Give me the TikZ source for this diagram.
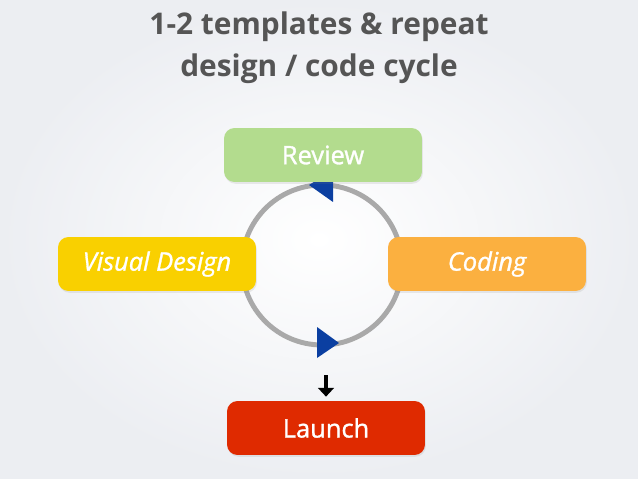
\documentclass[tikz,border=0pt]{standalone}
\usepackage{fontspec}
\setmainfont{Open Sans}
\newfontfamily\boxfont[FakeBold=1.2]{Open Sans}
\usetikzlibrary{arrows.meta,shadows}
\definecolor{bgcol}{HTML}{ECEEF2}
\definecolor{titlecol}{HTML}{555555}
\definecolor{reviewcol}{HTML}{B3DC8E}
\definecolor{designcol}{HTML}{F9D000}
\definecolor{codecol}{HTML}{FBB040}
\definecolor{launchcol}{HTML}{DF2A00}
\definecolor{ringcol}{HTML}{A9A9A9}
\definecolor{tipcol}{HTML}{0B3FA1}
\tikzset{
  stagebox/.style={rounded corners=6pt, minimum width=3.96cm, minimum height=1.08cm,
    text=white, font=\boxfont\fontsize{14.5}{17}\selectfont, inner sep=0pt,
    drop shadow={shadow xshift=0.5pt, shadow yshift=-1pt, opacity=0.15}},
}
\begin{document}
\begin{tikzpicture}[x=0.02cm, y=-0.02cm]

\shade[inner color=white, outer color=bgcol] (0,0) rectangle (638,479);
\useasboundingbox (0,0) rectangle (638,479);

% title
\node[text=titlecol, font=\bfseries\fontsize{17}{24}\selectfont, align=center] (title) at (319,48) {1-2 templates \& repeat\\design / code cycle};

% cycle ring
\draw[ringcol, line width=2.8pt] (322,265) circle (80);
\fill[tipcol] (309,185) -- (333,170) -- (333,202) -- cycle;
\fill[tipcol] (339,343) -- (317,327) -- (317,358) -- cycle;

% stages
\node[stagebox, fill=reviewcol] (review) at (323,155) {Review};
\node[stagebox, fill=designcol] (design) at (157,264) {\itshape Visual Design};
\node[stagebox, fill=codecol] (coding) at (487,264) {\itshape Coding};
\node[stagebox, fill=launchcol] (launch) at (326,428) {Launch};

\coordinate (exit) at (326,375);
\draw[-{Triangle[length=5pt, width=9pt]}, line width=2pt] (exit) -- ([yshift=0.08cm]launch.north);

\end{tikzpicture}
\end{document}
